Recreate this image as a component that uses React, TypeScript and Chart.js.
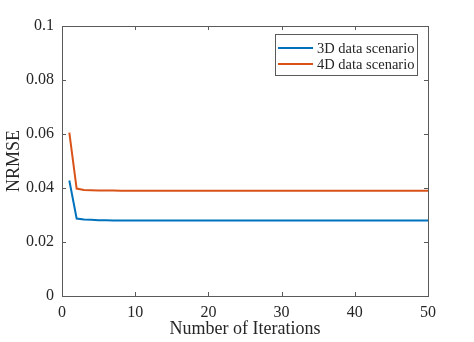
import React, { useEffect, useRef } from "react";
import { Chart, registerables } from "chart.js";

Chart.register(...registerables);

const iterations = [
  1, 2, 3, 4, 5, 6, 7, 8, 9, 10, 11, 12, 13, 14, 15, 16, 17, 18, 19, 20, 21, 22, 23, 24, 25,
  26, 27, 28, 29, 30, 31, 32, 33, 34, 35, 36, 37, 38, 39, 40, 41, 42, 43, 44, 45, 46, 47, 48, 49, 50,
];
const nrmse3D = [
  0.0428, 0.0287, 0.0283, 0.0282, 0.0281, 0.0281, 0.0280, 0.0280, 0.0280, 0.0280,
  0.0280, 0.0280, 0.0280, 0.0280, 0.0280, 0.0280, 0.0280, 0.0280, 0.0280, 0.0280,
  0.0280, 0.0280, 0.0280, 0.0280, 0.0280, 0.0280, 0.0280, 0.0280, 0.0280, 0.0280,
  0.0280, 0.0280, 0.0280, 0.0280, 0.0280, 0.0280, 0.0280, 0.0280, 0.0280, 0.0280,
  0.0280, 0.0280, 0.0280, 0.0280, 0.0280, 0.0280, 0.0280, 0.0280, 0.0280, 0.0280,
];
const nrmse4D = [
  0.0605, 0.0398, 0.0393, 0.0392, 0.0391, 0.0391, 0.0391, 0.0390, 0.0390, 0.0390,
  0.0390, 0.0390, 0.0390, 0.0390, 0.0390, 0.0390, 0.0390, 0.0390, 0.0390, 0.0390,
  0.0390, 0.0390, 0.0390, 0.0390, 0.0390, 0.0390, 0.0390, 0.0390, 0.0390, 0.0390,
  0.0390, 0.0390, 0.0390, 0.0390, 0.0390, 0.0390, 0.0390, 0.0390, 0.0390, 0.0390,
  0.0390, 0.0390, 0.0390, 0.0390, 0.0390, 0.0390, 0.0390, 0.0390, 0.0390, 0.0390,
];
const seriesNames = ["3D data scenario", "4D data scenario"];
const seriesColors = ["#0072BD", "#D95319"];
const xTicks = [0, 10, 20, 30, 40, 50];
const yTicks = [0, 0.02, 0.04, 0.06, 0.08, 0.1];

const FONT = "'Liberation Serif', 'Times New Roman', serif";
const AXIS_COLOR = "#5a5a5a";
const TEXT_COLOR = "#262626";

const boxPlugin = {
  id: "matlabBox",
  afterDraw(chart: any) {
    const { ctx, chartArea: a, scales } = chart;
    ctx.save();
    ctx.strokeStyle = AXIS_COLOR;
    ctx.lineWidth = 1;
    ctx.strokeRect(Math.round(a.left) + 0.5, Math.round(a.top) + 0.5, Math.round(a.right - a.left), Math.round(a.bottom - a.top));
    const tl = 4;
    ctx.beginPath();
    xTicks.forEach((v) => {
      const x = Math.round(scales.x.getPixelForValue(v)) + 0.5;
      ctx.moveTo(x, a.bottom);
      ctx.lineTo(x, a.bottom - tl);
      ctx.moveTo(x, a.top);
      ctx.lineTo(x, a.top + tl);
    });
    yTicks.forEach((v) => {
      const y = Math.round(scales.y.getPixelForValue(v)) + 0.5;
      ctx.moveTo(a.left, y);
      ctx.lineTo(a.left + tl, y);
      ctx.moveTo(a.right, y);
      ctx.lineTo(a.right - tl, y);
    });
    ctx.stroke();

    // legend
    const lx = 275, ly = 34, lw = 142, lh = 41;
    ctx.fillStyle = "#ffffff";
    ctx.fillRect(lx, ly, lw, lh);
    ctx.strokeStyle = AXIS_COLOR;
    ctx.lineWidth = 1;
    ctx.strokeRect(lx + 0.5, ly + 0.5, lw, lh);
    ctx.font = `14.5px ${FONT}`;
    ctx.textBaseline = "middle";
    ctx.textAlign = "left";
    chart.data.datasets.forEach((ds: any, i: number) => {
      const yy = ly + 14 + i * 16;
      ctx.strokeStyle = ds.borderColor;
      ctx.lineWidth = 2;
      ctx.beginPath();
      ctx.moveTo(lx + 3, yy);
      ctx.lineTo(lx + 38, yy);
      ctx.stroke();
      ctx.fillStyle = TEXT_COLOR;
      ctx.fillText(ds.label, lx + 42, yy + 1);
    });
    ctx.restore();
  },
};

export default function App() {
  const ref = useRef<HTMLCanvasElement>(null);
  useEffect(() => {
    document.body.style.margin = "0";
    const chart = new Chart(ref.current!, {
      type: "line",
      data: {
        datasets: [nrmse3D, nrmse4D].map((s, i) => ({
          label: seriesNames[i],
          data: iterations.map((x, j) => ({ x, y: s[j] })),
          borderColor: seriesColors[i],
          backgroundColor: seriesColors[i],
          borderWidth: 2,
          pointRadius: 0,
          tension: 0,
        })),
      },
      options: {
        animation: false,
        responsive: false,
        layout: { padding: { left: 0, top: 26, right: 46, bottom: 0 } },
        plugins: { legend: { display: false }, tooltip: { enabled: false } },
        scales: {
          x: {
            type: "linear",
            min: 0,
            max: 50,
            afterBuildTicks: (s: any) => {
              s.ticks = xTicks.map((v) => ({ value: v }));
            },
            afterFit: (s: any) => {
              s.height = 46;
            },
            grid: { display: false, drawTicks: false },
            border: { display: false },
            ticks: { color: TEXT_COLOR, font: { family: FONT, size: 16 }, padding: 7, maxRotation: 0 },
            title: { display: true, text: "Number of Iterations", color: TEXT_COLOR, font: { family: FONT, size: 18 }, padding: { top: 0, bottom: 2 } },
          },
          y: {
            type: "linear",
            min: 0,
            max: 0.1,
            afterBuildTicks: (s: any) => {
              s.ticks = yTicks.map((v) => ({ value: v }));
            },
            afterFit: (s: any) => {
              s.width = 62;
            },
            grid: { display: false, drawTicks: false },
            border: { display: false },
            ticks: {
              color: TEXT_COLOR,
              font: { family: FONT, size: 16 },
              padding: 8,
              callback: (v: any) => String(Math.round(Number(v) * 100) / 100),
            },
            title: { display: true, text: "NRMSE", color: TEXT_COLOR, font: { family: FONT, size: 18 }, padding: { top: 3, bottom: 0 } },
          },
        },
      },
      plugins: [boxPlugin],
    } as any);
    return () => chart.destroy();
  }, []);
  return (
    <div style={{ position: "fixed", left: 0, top: 0, width: 474, height: 342, background: "#fff" }}>
      <canvas ref={ref} width={474} height={342} style={{ width: 474, height: 342 }} />
    </div>
  );
}
